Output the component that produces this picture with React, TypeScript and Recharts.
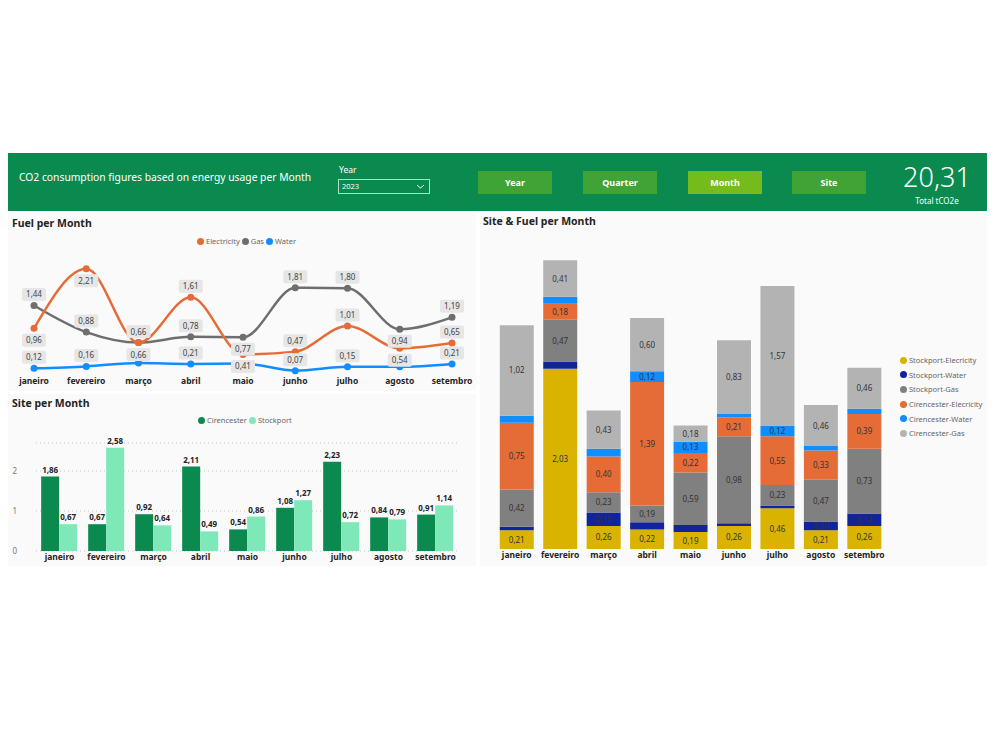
import React from "react";
import {
  LineChart,
  Line,
  BarChart,
  Bar,
  XAxis,
  YAxis,
  CartesianGrid,
  LabelList,
} from "recharts";

const months = [
  "janeiro",
  "fevereiro",
  "março",
  "abril",
  "maio",
  "junho",
  "julho",
  "agosto",
  "setembro",
];

// Fuel per Month (tCO2e)
const electricity = [0.96, 2.21, 0.66, 1.61, 0.41, 0.47, 1.01, 0.54, 0.65];
const gas = [1.44, 0.88, 0.66, 0.78, 0.77, 1.81, 1.8, 0.94, 1.19];
const water = [0.12, 0.16, 0.23, 0.21, 0.22, 0.07, 0.15, 0.15, 0.21];

// Site per Month
const cirencester = [1.86, 0.67, 0.92, 2.11, 0.54, 1.08, 2.23, 0.84, 0.91];
const stockport = [0.67, 2.58, 0.64, 0.49, 0.86, 1.27, 0.72, 0.79, 1.14];

// Site & Fuel per Month
const stockportElec = [0.21, 2.03, 0.26, 0.22, 0.19, 0.26, 0.46, 0.21, 0.26];
const stockportWater = [0.04, 0.08, 0.15, 0.08, 0.08, 0.03, 0.03, 0.1, 0.14];
const stockportGas = [0.42, 0.47, 0.23, 0.19, 0.59, 0.98, 0.23, 0.47, 0.73];
const cirencesterElec = [0.75, 0.18, 0.4, 1.39, 0.22, 0.21, 0.55, 0.33, 0.39];
const cirencesterWater = [0.08, 0.08, 0.09, 0.12, 0.13, 0.04, 0.12, 0.05, 0.06];
const cirencesterGas = [1.02, 0.41, 0.43, 0.6, 0.18, 0.83, 1.57, 0.46, 0.46];

const totalCO2 = "20,31";

// which side of the point each line label sits on (Power BI places them to avoid overlap)
const elecLabelSide = ["below", "below", "below", "above", "below", "above", "above", "below", "above"];
const gasLabelSide = ["above", "above", "above", "above", "below", "above", "above", "below", "above"];
const waterLabelSide = ["above", "above", "", "above", "", "above", "above", "", "above"];

const FONT = "'Segoe UI', 'Noto Sans', 'Open Sans', sans-serif";
const fmt = (v: number) => v.toFixed(2).replace(".", ",");

const fuelData = months.map((m, i) => ({
  month: m,
  electricity: electricity[i],
  gas: gas[i],
  water: water[i],
}));

const siteData = months.map((m, i) => ({
  month: m,
  cirencester: cirencester[i],
  stockport: stockport[i],
}));

const stackData = months.map((m, i) => ({
  month: m,
  stockportElec: stockportElec[i],
  stockportWater: stockportWater[i],
  stockportGas: stockportGas[i],
  cirencesterElec: cirencesterElec[i],
  cirencesterWater: cirencesterWater[i],
  cirencesterGas: cirencesterGas[i],
}));

const stackSeries = [
  { key: "stockportElec", name: "Stockport-Elecricity", color: "#d9b300" },
  { key: "stockportWater", name: "Stockport-Water", color: "#12239e" },
  { key: "stockportGas", name: "Stockport-Gas", color: "#808080" },
  { key: "cirencesterElec", name: "Cirencester-Elecricity", color: "#e66c37" },
  { key: "cirencesterWater", name: "Cirencester-Water", color: "#118dff" },
  { key: "cirencesterGas", name: "Cirencester-Gas", color: "#b3b3b3" },
];

const makePointLabel = (sides: string[]) => (props: any) => {
  const { x, y, value, index } = props;
  const side = sides[index];
  if (!side) return null;
  const cy = side === "above" ? y - 11 : y + 12;
  return (
    <g>
      <rect x={x - 12} y={cy - 6.5} width={24} height={13} rx={2} fill="#e6e6e6" />
      <text x={x} y={cy + 3} textAnchor="middle" fontSize={8} fill="#444" fontFamily={FONT}>
        {fmt(value)}
      </text>
    </g>
  );
};

const StackLabel = (props: any) => {
  const { x, y, width, height, value } = props;
  if (value < 0.1) return null;
  return (
    <text
      x={x + width / 2}
      y={y + height / 2 + 3}
      textAnchor="middle"
      fontSize={8}
      fill="#333"
      fontFamily={FONT}
    >
      {fmt(value)}
    </text>
  );
};

const Dot = ({ color }: { color: string }) => (
  <span
    style={{
      display: "inline-block",
      width: 7,
      height: 7,
      borderRadius: "50%",
      background: color,
      marginRight: 2,
      verticalAlign: "-0.5px",
    }}
  />
);

const btn = (left: number, label: string, bg: string) => (
  <div
    style={{
      position: "absolute",
      left,
      top: 171,
      width: 74,
      height: 23,
      background: bg,
      color: "#fff",
      fontWeight: 700,
      fontSize: 9,
      display: "flex",
      alignItems: "center",
      justifyContent: "center",
    }}
  >
    {label}
  </div>
);

const tickStyle = { fontSize: 8.5, fontWeight: 700, fill: "#252423", fontFamily: FONT };

export default function App() {
  return (
    <div
      style={{
        position: "absolute",
        left: 0,
        top: 0,
        width: 1000,
        height: 750,
        background: "#fff",
        fontFamily: FONT,
      }}
    >
      {/* header */}
      <div style={{ position: "absolute", left: 8, top: 153, width: 979, height: 58, background: "#0b8a4f" }} />
      <div style={{ position: "absolute", left: 19, top: 170, color: "#fff", fontSize: 10.3, whiteSpace: "nowrap" }}>
        CO2 consumption figures based on energy usage per Month
      </div>
      <div style={{ position: "absolute", left: 339, top: 164, color: "#fff", fontSize: 8.5 }}>Year</div>
      <div
        style={{
          position: "absolute",
          left: 338,
          top: 179,
          width: 92,
          height: 15,
          border: "1px solid #b9dcc8",
          boxSizing: "border-box",
          color: "#fff",
          fontSize: 7.5,
          paddingLeft: 3,
          lineHeight: "13px",
        }}
      >
        2023
        <svg style={{ position: "absolute", right: 4, top: 3 }} width={9} height={7}>
          <polyline points="1,2 4.5,5 8,2" fill="none" stroke="#fff" strokeWidth={1} />
        </svg>
      </div>
      {btn(478, "Year", "#40a335")}
      {btn(583, "Quarter", "#40a335")}
      {btn(688, "Month", "#75bb1c")}
      {btn(792, "Site", "#40a335")}
      <div
        style={{
          position: "absolute",
          left: 895,
          top: 160,
          width: 84,
          textAlign: "center",
          color: "#fff",
          fontSize: 27,
          fontWeight: 300,
          lineHeight: "34px",
        }}
      >
        {totalCO2}
      </div>
      <div
        style={{
          position: "absolute",
          left: 895,
          top: 195,
          width: 84,
          textAlign: "center",
          color: "#fff",
          fontSize: 8,
        }}
      >
        Total tCO2e
      </div>

      {/* panels */}
      <div style={{ position: "absolute", left: 8, top: 213, width: 468, height: 178, background: "#fafafa" }} />
      <div style={{ position: "absolute", left: 8, top: 394, width: 468, height: 172, background: "#fafafa" }} />
      <div style={{ position: "absolute", left: 480, top: 213, width: 507, height: 353, background: "#fafafa" }} />

      {/* Fuel per Month */}
      <div style={{ position: "absolute", left: 12, top: 216, fontSize: 10.5, fontWeight: 700, color: "#252423" }}>
        Fuel per Month
      </div>
      <div style={{ position: "absolute", left: 197, top: 236, fontSize: 7.5, color: "#666", whiteSpace: "nowrap" }}>
        <Dot color="#e66c37" />
        Electricity <Dot color="#6e6e6e" />
        Gas <Dot color="#118dff" />
        Water
      </div>
      <div style={{ position: "absolute", left: 8, top: 232 }}>
        <LineChart width={468} height={160} data={fuelData} margin={{ top: 23, right: 24, left: 26, bottom: 0 }}>
          <XAxis
            dataKey="month"
            axisLine={false}
            tickLine={false}
            tickSize={0}
            tickMargin={4}
            height={18}
            interval={0}
            tick={tickStyle}
          />
          <YAxis hide domain={[0, 2.5]} />
          <Line
            type="monotone"
            dataKey="water"
            stroke="#118dff"
            strokeWidth={2.5}
            dot={{ r: 3.5, fill: "#118dff", stroke: "#118dff", strokeWidth: 0 }}
            isAnimationActive={false}
          >
            <LabelList dataKey="water" content={makePointLabel(waterLabelSide)} />
          </Line>
          <Line
            type="monotone"
            dataKey="gas"
            stroke="#6e6e6e"
            strokeWidth={2.5}
            dot={{ r: 3.5, fill: "#6e6e6e", stroke: "#6e6e6e", strokeWidth: 0 }}
            isAnimationActive={false}
          >
            <LabelList dataKey="gas" content={makePointLabel(gasLabelSide)} />
          </Line>
          <Line
            type="monotone"
            dataKey="electricity"
            stroke="#e66c37"
            strokeWidth={2.5}
            dot={{ r: 3.5, fill: "#e66c37", stroke: "#e66c37", strokeWidth: 0 }}
            isAnimationActive={false}
          >
            <LabelList dataKey="electricity" content={makePointLabel(elecLabelSide)} />
          </Line>
        </LineChart>
      </div>

      {/* Site per Month */}
      <div style={{ position: "absolute", left: 12, top: 396, fontSize: 10.5, fontWeight: 700, color: "#252423" }}>
        Site per Month
      </div>
      <div style={{ position: "absolute", left: 198, top: 415, fontSize: 7.5, color: "#666", whiteSpace: "nowrap" }}>
        <Dot color="#0b8a4f" />
        Cirencester <Dot color="#7ee8b9" />
        Stockport
      </div>
      <div style={{ position: "absolute", left: 8, top: 428 }}>
        <BarChart
          width={468}
          height={140}
          data={siteData}
          margin={{ top: 15, right: 17, left: 0, bottom: 0 }}
          barCategoryGap="11%"
          barGap={0}
        >
          <CartesianGrid vertical={false} stroke="#c8c8c8" strokeDasharray="1 3" />
          <XAxis
            dataKey="month"
            axisLine={false}
            tickLine={false}
            tickSize={0}
            tickMargin={3}
            height={17}
            interval={0}
            tick={tickStyle}
          />
          <YAxis
            domain={[0, 2.7]}
            ticks={[0, 1, 2]}
            width={28}
            axisLine={false}
            tickLine={false}
            tickSize={0}
            tickMargin={19}
            tick={{ fontSize: 8, fill: "#777", fontFamily: FONT }}
          />
          <Bar dataKey="cirencester" fill="#0b8a4f" isAnimationActive={false}>
            <LabelList
              dataKey="cirencester"
              position="top"
              offset={4}
              formatter={(v: any) => fmt(Number(v))}
              style={{ fontSize: 8, fontWeight: 700, fill: "#252423", fontFamily: FONT }}
            />
          </Bar>
          <Bar dataKey="stockport" fill="#7ee8b9" isAnimationActive={false}>
            <LabelList
              dataKey="stockport"
              position="top"
              offset={4}
              formatter={(v: any) => fmt(Number(v))}
              style={{ fontSize: 8, fontWeight: 700, fill: "#252423", fontFamily: FONT }}
            />
          </Bar>
        </BarChart>
      </div>

      {/* Site & Fuel per Month */}
      <div style={{ position: "absolute", left: 483, top: 214, fontSize: 10.5, fontWeight: 700, color: "#252423" }}>
        Site &amp; Fuel per Month
      </div>
      <div style={{ position: "absolute", left: 480, top: 240 }}>
        <BarChart
          width={500}
          height={325}
          data={stackData}
          margin={{ top: 7, right: 94, left: 15, bottom: 0 }}
          barCategoryGap="11%"
        >
          <XAxis
            dataKey="month"
            axisLine={false}
            tickLine={false}
            tickSize={0}
            tickMargin={3}
            height={16}
            interval={0}
            tick={tickStyle}
          />
          <YAxis hide domain={[0, 3.4]} />
          {stackSeries.map((s) => (
            <Bar key={s.key} dataKey={s.key} stackId="a" fill={s.color} isAnimationActive={false}>
              <LabelList dataKey={s.key} content={StackLabel} />
            </Bar>
          ))}
        </BarChart>
      </div>
      <div style={{ position: "absolute", left: 900, top: 355, fontSize: 7.5, color: "#666" }}>
        {stackSeries.map((s) => (
          <div key={s.key} style={{ height: 14.7, whiteSpace: "nowrap" }}>
            <Dot color={s.color} />
            {s.name}
          </div>
        ))}
      </div>
    </div>
  );
}
